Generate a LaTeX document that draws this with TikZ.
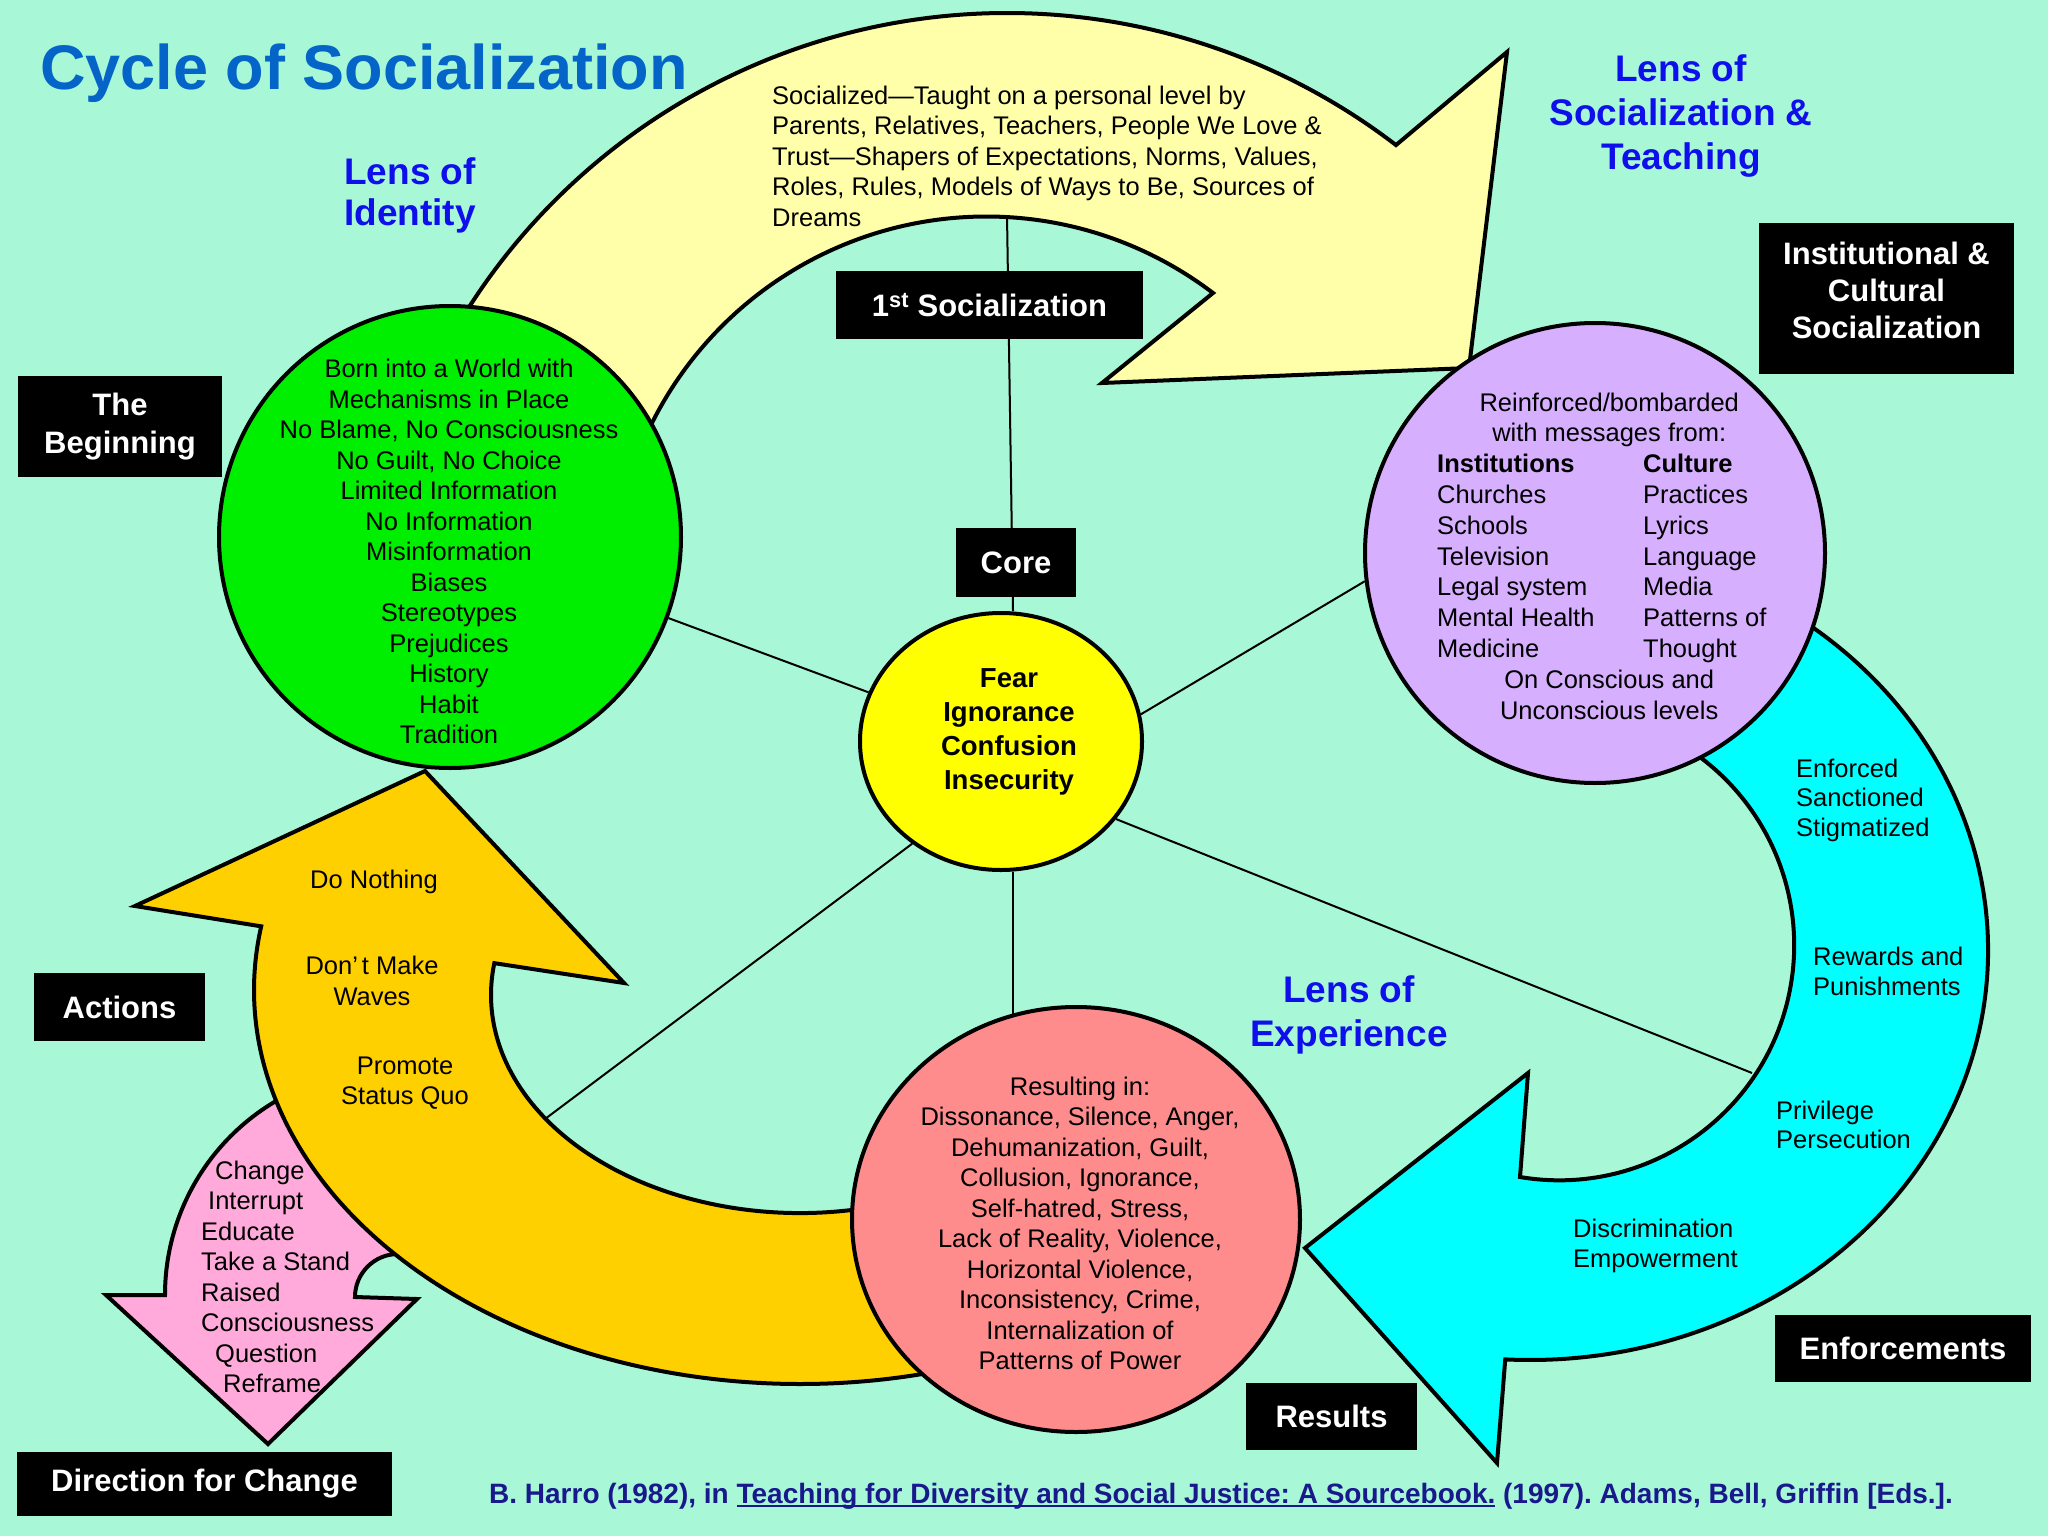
\documentclass[tikz,border=0pt]{standalone}
\usepackage{fontspec}
\setmainfont{Liberation Sans}
\usetikzlibrary{shapes.geometric,calc}
\definecolor{bgmint}{RGB}{168,248,216}
\definecolor{yarrow}{RGB}{255,255,170}
\definecolor{greenA}{RGB}{0,238,0}
\definecolor{coreY}{RGB}{255,255,0}
\definecolor{purpleA}{RGB}{215,175,255}
\definecolor{cyanA}{RGB}{0,255,255}
\definecolor{redA}{RGB}{255,140,140}
\definecolor{orangeA}{RGB}{255,208,0}
\definecolor{pinkA}{RGB}{255,170,218}
\definecolor{titleblue}{RGB}{5,100,200}
\definecolor{lensblue}{RGB}{15,15,235}
\definecolor{citeblue}{RGB}{25,25,140}
\pgfdeclarelayer{bgfill}
\pgfdeclarelayer{spokes}
\pgfsetlayers{bgfill,spokes,main}
\frenchspacing
\newcommand\cosBody{\fontsize{25.5}{30.5}\selectfont}
\newcommand\cosSide{\fontsize{25.5}{29.5}\selectfont}
\newcommand\cosLabel{\fontsize{31}{38}\selectfont\bfseries}
\newcommand\cosLens{\fontsize{37}{44}\selectfont\bfseries}
\newcommand\cosCore{\fontsize{27.5}{34}\selectfont\bfseries}
\newcommand\cosUL[1]{\setbox0=\hbox{#1}\rlap{\rule[-4pt]{\wd0}{2.2pt}}\box0\relax}
\begin{document}
\begin{tikzpicture}[x=1pt,y=1pt,yscale=-1,
  outl/.style={draw=black,line width=4pt,line join=miter},
  blob/.style={ellipse,draw=black,line width=4pt,inner sep=0pt},
  spoke/.style={draw=black,line width=2pt},
  labelbox/.style={fill=black,text=white,inner sep=0pt,font=\cosLabel,align=center},
  bodytext/.style={inner sep=0pt,font=\cosBody,align=center,text=black},
  sidetext/.style={inner sep=0pt,font=\cosSide,align=left,anchor=west,text=black},
  lens/.style={text=lensblue,font=\cosLens,align=center,inner sep=0pt}]
\useasboundingbox (0,0) rectangle (2048,1536);
\begin{pgfonlayer}{bgfill}
\fill[bgmint] (0,0) rectangle (2048,1536);
\end{pgfonlayer}

% yellow arrow (1st socialization)
\draw[outl,fill=yarrow] ($(1007,652)+(205:639)$) arc[start angle=205,end angle=307.5,radius=639]
  -- (1507,52) -- (1469,368) -- (1102,383) -- (1213,293)
  arc[start angle=307.3,end angle=198,radius=374] -- cycle;
% cyan arrow (enforcements)
\draw[outl,fill=cyanA] ($(1530,950)+(-58:458 and 410)$) arc[start angle=-58,end angle=93.1,x radius=458,y radius=410]
  -- (1497,1463) -- (1305,1248) -- (1528,1073) -- (1520,1177)
  arc[start angle=99.6,end angle=-62,radius=235] -- cycle;
% pink arrow (direction for change)
\draw[outl,fill=pinkA] ($(390,1295)+(250:225)$) arc[start angle=250,end angle=180,radius=225]
  -- (106,1295) -- (268,1444) -- (417,1299) -- (355,1297)
  arc[start angle=180,end angle=300,radius=43] -- cycle;
% orange arrow (actions)
\draw[outl,fill=orangeA] ($(800,990)+(189.3:546 and 394)$) arc[start angle=189.3,end angle=75,x radius=546,y radius=394]
  -- ($(800,995)+(70:309 and 218)$) arc[start angle=70,end angle=188.4,x radius=309,y radius=218]
  -- (624,983) -- (425,771) -- (135,906) -- cycle;

% circles
\node[blob,fill=greenA,minimum width=462,minimum height=462] (green) at (450,537) {};
\node[blob,fill=purpleA,minimum width=460,minimum height=460] (purple) at (1595,553) {};
\node[blob,fill=redA,minimum width=448,minimum height=425] (red) at (1076,1219.5) {};
\node[blob,fill=coreY,minimum width=282,minimum height=257] (core) at (1001,741.5) {};

% texts inside shapes
\node[bodytext] (greentext) at (449,551.5) {Born into a World with\\Mechanisms in Place\\No Blame, No Consciousness\\No Guilt, No Choice\\Limited Information\\No Information\\Misinformation\\Biases\\Stereotypes\\Prejudices\\History\\Habit\\Tradition};
\node[inner sep=0pt,font=\cosCore,align=center] (coretext) at (1009,731.5) {Fear\\Ignorance\\Confusion\\Insecurity};
\node[bodytext] (redtext) at (1080,1223.5) {Resulting in:\\Dissonance, Silence, Anger,\\Dehumanization, Guilt,\\Collusion, Ignorance,\\Self-hatred, Stress,\\Lack of Reality, Violence,\\Horizontal Violence,\\Inconsistency, Crime,\\Internalization of\\Patterns of Power};
\node[bodytext,align=left,anchor=west,font=\fontsize{25.5}{30.8}\selectfont] (purpletext) at (1437,556) {\makebox[344pt][c]{Reinforced/bombarded}\\\makebox[344pt][c]{with messages from:}\\\makebox[206pt][l]{\bfseries Institutions}{\bfseries Culture}\\\makebox[206pt][l]{Churches}Practices\\\makebox[206pt][l]{Schools}Lyrics\\\makebox[206pt][l]{Television}Language\\\makebox[206pt][l]{Legal system}Media\\\makebox[206pt][l]{Mental Health}Patterns of\\\makebox[206pt][l]{Medicine}Thought\\\makebox[344pt][c]{On Conscious and}\\\makebox[344pt][c]{Unconscious levels}};
\node[bodytext,align=left,anchor=west] (yellowtext) at (772,156) {Socialized—Taught on a personal level by\\Parents, Relatives, Teachers, People We Love \&\\Trust—Shapers of Expectations, Norms, Values,\\Roles, Rules, Models of Ways to Be, Sources of\\Dreams};
\node[bodytext,align=left,anchor=west] (pinktext) at (201,1277) {\hspace*{14pt}Change\\\hspace*{7pt}Interrupt\\Educate\\Take a Stand\\Raised\\Consciousness\\\hspace*{14pt}Question\\\hspace*{22pt}Reframe};
\node[bodytext] (or1) at (374,882) {Do Nothing};
\node[bodytext] (or2) at (372,981) {Don’\kern4pt t Make\\Waves};
\node[bodytext] (or3) at (405,1083) {Promote\\Status Quo};
\node[sidetext] (cy1) at (1796,800) {Enforced\\Sanctioned\\Stigmatized};
\node[sidetext] (cy2) at (1813,971.5) {Rewards and\\Punishments};
\node[sidetext] (cy3) at (1776,1125) {Privilege\\Persecution};
\node[sidetext] (cy4) at (1573,1246) {Discrimination\\Empowerment};

% label boxes
\node[labelbox,minimum width=204,minimum height=101] (beginning) at (120,426.5) {The\\Beginning};
\node[labelbox,minimum width=307,minimum height=68] (firstsoc) at (989.5,305) {1\textsuperscript{st} Socialization};
\node[labelbox,minimum width=255,minimum height=151,font=\fontsize{31}{37}\selectfont\bfseries] (inst) at (1886.5,298.5) {Institutional \&\\Cultural\\Socialization\\[-20pt]\mbox{}};
\node[labelbox,minimum width=120,minimum height=69] (corelabel) at (1016,562.5) {Core};
\node[labelbox,minimum width=171,minimum height=68] (actions) at (119.5,1007) {Actions};
\node[labelbox,minimum width=375,minimum height=64] (direction) at (204.5,1484) {Direction for Change};
\node[labelbox,minimum width=171,minimum height=67] (results) at (1331.5,1416.5) {Results};
\node[labelbox,minimum width=256,minimum height=67] (enforce) at (1903,1348.5) {Enforcements};

% lens headings
\node[lens,font=\fontsize{37}{41}\selectfont\bfseries] (lensid) at (410,195) {Lens of\\Identity};
\node[lens] (lenssoc) at (1681,116) {Lens of\\Socialization \&\\Teaching};
\node[lens] (lensexp) at (1349,1015) {Lens of\\Experience};

% title and citation
\node[anchor=base west,inner sep=0pt,text=titleblue,font=\fontsize{63}{70}\selectfont\bfseries] (title) at (40,90) {Cycle of Socialization};
\node[anchor=base west,inner sep=0pt,text=citeblue,font=\fontsize{28}{32}\selectfont\bfseries] (cite) at (489,1503) {B. Harro (1982), in \cosUL{Teaching for Diversity and Social Justice: A Sourcebook.} (1997). Adams, Bell, Griffin [Eds.].};

% spokes from the core
\coordinate (arctop) at (1007,215);
\coordinate (orangept) at (545,1119);
\coordinate (cyanpt) at (1752,1073);
\coordinate (cn) at ($(core.north)+(12,0)$);
\coordinate (cs) at ($(core.south)+(12,0)$);
\begin{pgfonlayer}{spokes}
\draw[spoke] (core) -- (green);
\draw[spoke] (core.11) -- (purple.187);
\draw[spoke] (core.229) -- (orangept);
\draw[spoke] (core.326) -- (cyanpt);
\draw[spoke] (cn) -- (arctop);
\draw[spoke] (cs) -- (cs |- red.center);
\end{pgfonlayer}
\end{tikzpicture}
\end{document}
